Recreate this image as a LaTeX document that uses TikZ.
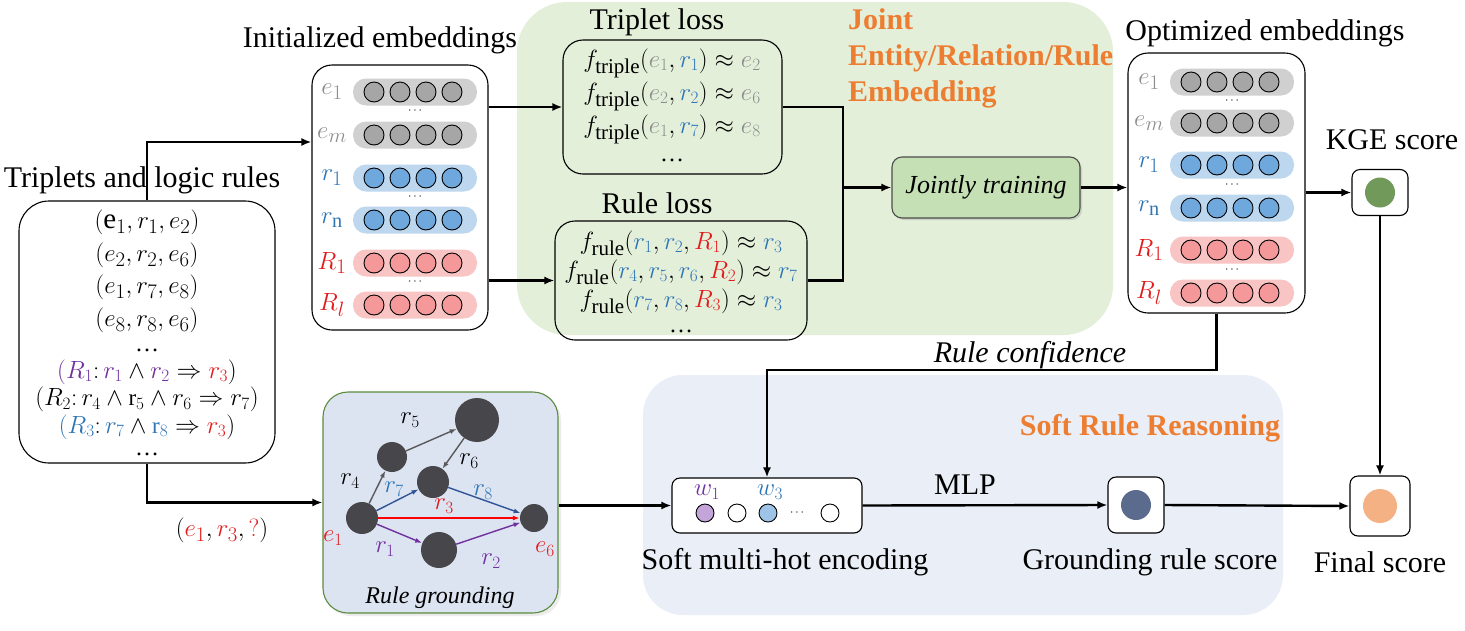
\documentclass[tikz,border=0pt]{standalone}
\usepackage{fontspec}
\setmainfont{Liberation Serif}
\usetikzlibrary{arrows.meta,shadows}
\definecolor{jgreen}{HTML}{E4EFDA}
\definecolor{sblue}{HTML}{E9EEF7}
\definecolor{orng}{HTML}{ED7D31}
\definecolor{egrayP}{HTML}{D0D0D0}
\definecolor{egrayC}{HTML}{A6A6A6}
\definecolor{rblueP}{HTML}{BDD7EE}
\definecolor{rblueC}{HTML}{6FA8DC}
\definecolor{RredP}{HTML}{F9C4C4}
\definecolor{RredC}{HTML}{F4989A}
\definecolor{mblue}{HTML}{2E75B6}
\definecolor{mred}{HTML}{E31A1C}
\definecolor{mgray}{HTML}{8C8C8C}
\definecolor{mpurple}{HTML}{7030A0}
\definecolor{jtrain}{HTML}{C5E0B4}
\definecolor{kgec}{HTML}{70995A}
\definecolor{grsc}{HTML}{5A6B8E}
\definecolor{finc}{HTML}{F4B183}
\definecolor{nodeg}{HTML}{47474B}
\definecolor{rgfill}{HTML}{DCE3F1}
\definecolor{rgborder}{HTML}{5B8B3E}
\definecolor{wonec}{HTML}{C3A5DA}
\definecolor{wthreec}{HTML}{9DC3E6}
\definecolor{edgegray}{HTML}{595959}
\definecolor{edgeblue}{HTML}{2F5597}
\newcommand{\fsL}{\fontsize{30}{34}\selectfont}
\newcommand{\fsX}{\fontsize{29}{33}\selectfont}
\newcommand{\fsM}{\fontsize{27}{30}\selectfont}
\newcommand{\fsE}{\fontsize{29}{32}\selectfont}
\newcommand{\fsS}{\fontsize{24}{26}\selectfont}
\newcommand{\fsR}{\fontsize{23}{25}\selectfont}
\newcommand{\fsG}{\fontsize{25}{28}\selectfont}
\newcommand{\fsSub}{\fontsize{21}{21}\selectfont}
\newcommand{\fsT}{\fontsize{12}{12}\selectfont}
\newcommand{\emrow}[6]{%
  \fill[#3, rounded corners=13] (#1,#2-13.5) rectangle (#1+124,#2+13.5);
  \foreach \k in {21,47,73,99} \draw[fill=#4, line width=0.9] ({#1+\k},#2) circle (10);
  \node[font=\fsE, text=#6] at ({#1-21},#2) {$#5$};
}
\newcommand{\edots}[2]{\node[font=\fsT] at (#1,#2) {$\cdots$};}
\begin{document}
\begin{tikzpicture}[x=1pt,y=-1pt,
  every node/.style={inner sep=0.5pt},
  box/.style={draw, line width=1.1, rounded corners=#1},
  box/.default=20,
  arr/.style={line width=2.4, -{Latex[length=10pt,width=8pt]}},
  ln/.style={line width=2.4},
  gnode/.style={circle, fill=nodeg, inner sep=0},
  gedge/.style={line width=1.4, -{Latex[length=7pt,width=5pt]}},
  lbl/.style={font=\fsL, inner sep=0}
]
\useasboundingbox (0,0) rectangle (1465,630);
\fill[white] (0,0) rectangle (1465,630);

% regions
\fill[jgreen, rounded corners=50] (517,2) rectangle (1113,335);
\fill[sblue, rounded corners=40] (643,375) rectangle (1283,615);
\node[font=\fsL\bfseries, text=orng, align=left, anchor=north west, inner sep=0] (jtitle) at (848,8)
  {Joint\\[2pt]Entity/Relation/Rule\\[2pt]Embedding};
\node[font=\fsL\bfseries, text=orng] (stitle) at (1150,428) {Soft Rule Reasoning};

% left box
\node[lbl] (tlabel) at (142,180) {Triplets and logic rules};
\node[box=30, minimum width=256, minimum height=262] (trip) at (147,332) {};
\node[font=\fsX] (t1) at (147,222) {$(\mathrm{e}_1,r_1,e_2)$};
\node[font=\fsX] (t2) at (147,255) {$(e_2,r_2,e_6)$};
\node[font=\fsX] (t3) at (147,287) {$(e_1,r_7,e_8)$};
\node[font=\fsX] (t4) at (147,320) {$(e_8,r_8,e_6)$};
\node[font=\fsS, inner sep=0] (t5) at (147,350) {\ldots};
\node[font=\fsR, inner sep=0] (t6) at (147,372) {${\color{mpurple}(R_1}\colon {\color{mpurple}r_1}\wedge{\color{mpurple}r_2}\Rightarrow{\color{mred}r_3})$};
\node[font=\fsR, inner sep=0] (t7) at (147,399.5) {$(R_2\colon r_4\wedge \mathrm{r}_5\wedge r_6\Rightarrow r_7)$};
\node[font=\fsR, inner sep=0] (t8) at (147,427) {${\color{mblue}(R_3}\colon {\color{mblue}r_7}\wedge{\color{mblue}\mathrm{r}_8}\Rightarrow{\color{mred}r_3})$};
\node[font=\fsS, inner sep=0] (t9) at (147,454) {\ldots};

% initialized embeddings
\node[lbl] (ilabel) at (380,40) {Initialized embeddings};
\node[box, fill=white, minimum width=176, minimum height=265] (init) at (400,197.5) {};
\emrow{353}{92}{egrayP}{egrayC}{e_1}{mgray}
\edots{415}{111}
\emrow{353}{135}{egrayP}{egrayC}{e_m}{mgray}
\emrow{353}{178}{rblueP}{rblueC}{r_1}{mblue}
\edots{415}{197}
\emrow{353}{220}{rblueP}{rblueC}{r_\mathrm{n}}{mblue}
\emrow{353}{263}{RredP}{RredC}{R_1}{mred}
\edots{415}{282}
\emrow{353}{305}{RredP}{RredC}{R_l}{mred}

% triplet loss
\node[lbl] (trlabel) at (657,22) {Triplet loss};
\node[box, minimum width=219, minimum height=134] (trbox) at (672.5,107) {};
\node[font=\fsM] (tr1) at (672,63) {$f_{\mbox{\fsSub triple}}({\color{mgray}e_1},{\color{mblue}r_1})\approx{\color{mgray}e_2}$};
\node[font=\fsM] (tr2) at (672,96) {$f_{\mbox{\fsSub triple}}({\color{mgray}e_2},{\color{mblue}r_2})\approx{\color{mgray}e_6}$};
\node[font=\fsM] (tr3) at (672,129) {$f_{\mbox{\fsSub triple}}({\color{mgray}e_1},{\color{mblue}r_7})\approx{\color{mgray}e_8}$};
\node[font=\fsS, inner sep=0] (tr4) at (672,160) {\ldots};

% rule loss
\node[lbl] (rllabel) at (657,203) {Rule loss};
\node[box, minimum width=252, minimum height=119] (rlbox) at (681,280.5) {};
\node[font=\fsM, inner sep=0] (rl1) at (681,243) {$f_{\mbox{\fsSub rule}}({\color{mblue}r_1},{\color{mblue}r_2},{\color{mred}R_1})\approx{\color{mblue}r_3}$};
\node[font=\fsM, inner sep=0] (rl2) at (681,272) {$f_{\mbox{\fsSub rule}}({\color{mblue}r_4},{\color{mblue}r_5},{\color{mblue}r_6},{\color{mred}R_2})\approx{\color{mblue}r_7}$};
\node[font=\fsM, inner sep=0] (rl3) at (681,301) {$f_{\mbox{\fsSub rule}}({\color{mblue}r_7},{\color{mblue}r_8},{\color{mred}R_3})\approx{\color{mblue}r_3}$};
\node[font=\fsS, inner sep=0] (rl4) at (681,331) {\ldots};

% jointly training
\node[box=10, fill=jtrain, draw=black!70, drop shadow={opacity=0.25, shadow xshift=2pt, shadow yshift=-2pt},
  minimum width=188, minimum height=61, font=\fontsize{26}{30}\selectfont\itshape] (jt) at (986,187.5) {Jointly training};
\coordinate (jn) at (843,187.5);

% optimized embeddings
\node[lbl] (olabel) at (1265,33) {Optimized embeddings};
\node[box, fill=white, minimum width=177, minimum height=260] (opt) at (1216.5,183) {};
\emrow{1170}{82}{egrayP}{egrayC}{e_1}{mgray}
\edots{1232}{101}
\emrow{1170}{123}{egrayP}{egrayC}{e_m}{mgray}
\emrow{1170}{165}{rblueP}{rblueC}{r_1}{mblue}
\edots{1232}{185}
\emrow{1170}{208}{rblueP}{rblueC}{r_\mathrm{n}}{mblue}
\emrow{1170}{250}{RredP}{RredC}{R_1}{mred}
\edots{1232}{270}
\emrow{1170}{293}{RredP}{RredC}{R_l}{mred}

% KGE score
\node[lbl] (klabel) at (1392,140) {KGE score};
\node[box=8, fill=white, minimum width=56, minimum height=46] (kge) at (1380,192.5) {};
\fill[kgec] (kge.center) circle (15);

% rule grounding
\node[box=25, draw=rgborder, fill=rgfill, drop shadow={opacity=0.15, shadow xshift=3pt, shadow yshift=-3pt},
  minimum width=235, minimum height=221] (rg) at (440.5,502.5) {};
\node[font=\fontsize{24}{28}\selectfont\itshape] (rgl) at (440,598) {Rule grounding};
\node[gnode, minimum size=32] (ge1) at (362,518) {};
\node[gnode, minimum size=30] (ga) at (392,457) {};
\node[gnode, minimum size=44] (gbig) at (477,420) {};
\node[gnode, minimum size=32] (gmid) at (433,482) {};
\node[gnode, minimum size=28] (ge6) at (534,518) {};
\node[gnode, minimum size=36] (gbot) at (439,550) {};
\draw[gedge, edgegray] (ge1) -- (ga);
\draw[gedge, edgegray] (ga) -- (gbig);
\draw[gedge, edgegray] (gbig) -- (gmid);
\draw[gedge, edgeblue] (ge1) -- (gmid);
\draw[gedge, edgeblue] (gmid) -- (ge6);
\draw[gedge, red] (ge1) -- (ge6);
\draw[gedge, mpurple] (ge1) -- (gbot);
\draw[gedge, mpurple] (gbot) -- (ge6);
\node[font=\fsG] (lr4) at (350,481) {$r_4$};
\node[font=\fsG] (lr5) at (410,420) {$r_5$};
\node[font=\fsG] (lr6) at (469,461) {$r_6$};
\node[font=\fsG, text=mblue] (lr7) at (394,489) {$r_7$};
\node[font=\fsG, text=mblue] (lr8) at (483,492) {$r_8$};
\node[font=\fsG, text=mred] (lr3) at (444,506) {$r_3$};
\node[font=\fsG, text=mpurple] (lr1) at (385,549) {$r_1$};
\node[font=\fsG, text=mpurple] (lr2) at (491,561) {$r_2$};
\node[font=\fsG, text=mred] (le1) at (333,538) {$e_1$};
\node[font=\fsG, text=mred] (le6) at (545,549) {$e_6$};

% query label
\node[font=\fsX] (q) at (222,530) {$({\color{mred}e_1},{\color{mred}r_3},{\color{mred}?})$};

% soft multi-hot
\node[box=8, fill=white, minimum width=190, minimum height=55] (mh) at (767,505.5) {};
\draw[fill=wonec, line width=0.9] (705,513) circle (9);
\draw[fill=white, line width=0.9] (737,513) circle (9);
\draw[fill=wthreec, line width=0.9] (768,513) circle (9);
\node[font=\fsT] (mhd) at (797,513) {$\cdots$};
\draw[fill=white, line width=0.9] (830,513) circle (9);
\node[font=\fsG, text=mpurple] (w1) at (707,492) {$w_1$};
\node[font=\fsG, text=mblue] (w3) at (770,492) {$w_3$};
\node[lbl] (mhl) at (785,562) {Soft multi-hot encoding};
\node[lbl] (mlp) at (965,485) {MLP};

% grounding rule score
\node[box=8, fill=white, minimum width=56, minimum height=56] (gr) at (1136,505) {};
\fill[grsc] (gr.center) circle (15);
\node[lbl] (grl) at (1150,562) {Grounding rule score};

% final score
\node[box=8, fill=white, minimum width=60, minimum height=60] (fin) at (1380,506) {};
\fill[finc] (fin.center) circle (17);
\node[lbl] (finl) at (1380,562) {Final score};

% rule confidence
\node[font=\fsL\itshape] (rc) at (1030,355) {Rule confidence};
\coordinate (rcc) at (1216.5,370);

% connectors
\draw[arr] (trip.north) |- ([yshift=55.5pt]init.west);
\draw[arr] (trip.south) |- (rg.west);
\draw[arr] (init.east |- trbox.west) -- (trbox.west);
\draw[arr] (init.east |- rlbox.west) -- (rlbox.west);
\draw[ln] (trbox.east) -| (jn) |- (rlbox.east);
\draw[arr] (jn) -- (jt.west);
\draw[arr] (jt.east) -- (opt.west |- jt.east);
\draw[arr] (opt.east |- kge.west) -- (kge.west);
\draw[arr] (kge.south) -- (fin.north);
\draw[arr] (opt.south) -- (rcc) -| (mh.north);
\draw[arr] (rg.east |- mh.west) -- (mh.west);
\draw[arr] (mh.east) -- (gr.west);
\draw[arr] (gr.east) -- (fin.west);
\end{tikzpicture}
\end{document}
